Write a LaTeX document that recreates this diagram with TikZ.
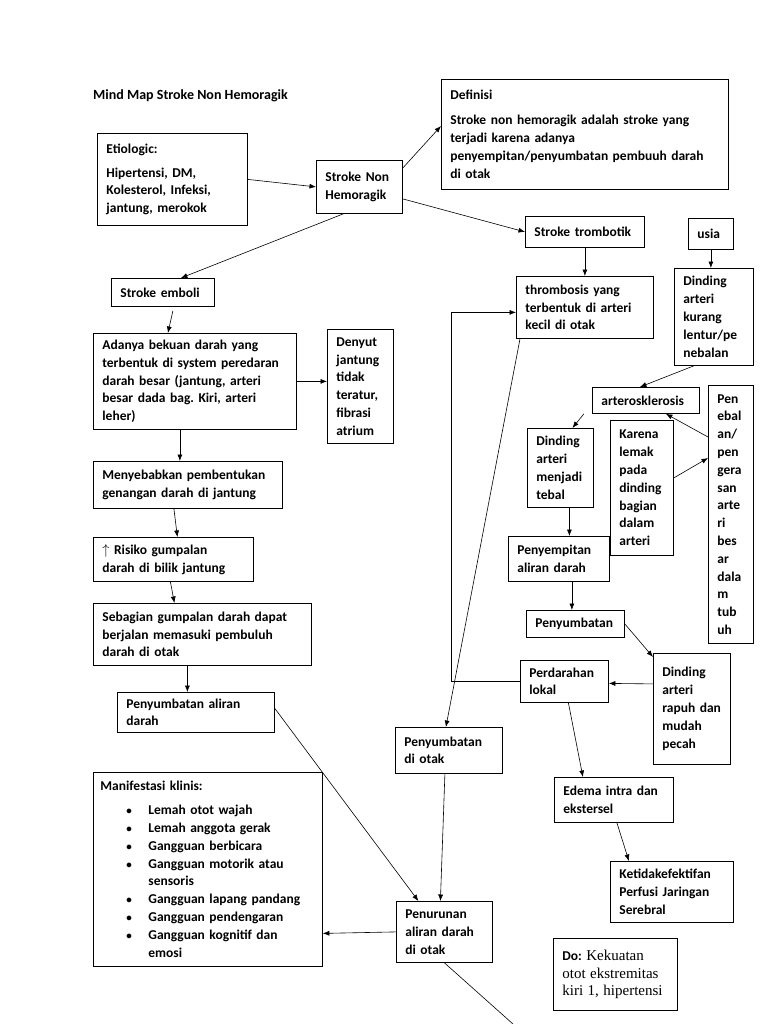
\documentclass[tikz,border=0pt]{standalone}
\usepackage{fontspec}
\setmainfont{Carlito}
\newfontfamily\dofont{Liberation Serif}
\usetikzlibrary{arrows.meta}
\tikzset{>={Latex[length=6.5pt,width=5pt]}}
\tikzset{bx/.style={draw, line width=0.8pt, anchor=north west, align=left, inner xsep=9pt, inner ysep=2pt, font=\bfseries\fontsize{13.5}{17.8}\selectfont}}
\tikzset{ln/.style={line width=0.6pt}}
\newcommand{\blt}{\hspace*{26pt}\makebox[22pt][l]{\fontsize{11}{11}\selectfont\textbullet}}
\frenchspacing

\begin{document}
\begin{tikzpicture}[x=1pt,y=-1pt]
\useasboundingbox (0,0) rectangle (768,1024);

\node[anchor=west, inner sep=0pt, font=\bfseries\fontsize{14}{17.8}\selectfont] (title) at (93,96) {Mind Map Stroke Non Hemoragik};

% top row
\node[bx, minimum width=150pt, minimum height=92pt, text width=132pt] (etio) at (97,133) {Etiologic:\\[6pt]Hipertensi, DM,\\Kolesterol, Infeksi,\\jantung, merokok};
\node[bx, minimum width=86pt, minimum height=53pt, text width=68pt] (snh) at (316,160) {Stroke Non\\Hemoragik};
\node[bx, minimum width=287pt, minimum height=110pt, text width=269pt] (defn) at (441,79) {Definisi\\[7pt]Stroke non hemoragik adalah stroke yang\\terjadi karena adanya\\penyempitan/penyumbatan pembuuh darah\\di otak};

% right side
\node[bx, minimum width=119pt, minimum height=31pt, text width=101pt] (trombotik) at (525,216) {Stroke trombotik};
\node[bx, minimum width=45pt, minimum height=31pt, text width=27pt] (usia) at (688,218) {usia};
\node[bx, minimum width=79pt, minimum height=97pt, text width=61pt] (kurang) at (674,268) {Dinding\\arteri\\kurang\\lentur/pe\\nebalan};
\node[bx, minimum width=137pt, minimum height=62pt, text width=119pt] (thromb) at (516,276) {thrombosis yang\\terbentuk di arteri\\kecil di otak};
\node[bx, minimum width=107pt, minimum height=26pt, text width=89pt] (artero) at (592,387) {arterosklerosis};
\node[bx, minimum width=45pt, minimum height=258pt, text width=27pt] (penebalan) at (708,385) {Pen\\ebal\\an/\\pen\\gera\\san\\arte\\ri\\bes\\ar\\dala\\m\\tub\\uh};
\node[bx, minimum width=66pt, minimum height=79pt, text width=48pt] (tebal) at (527,428) {Dinding\\arteri\\menjadi\\tebal};
\node[bx, minimum width=63pt, minimum height=135pt, text width=45pt] (lemak) at (610,420) {Karena\\lemak\\pada\\dinding\\bagian\\dalam\\arteri};
\node[bx, minimum width=101pt, minimum height=45pt, text width=83pt] (sempit) at (508,536) {Penyempitan\\aliran darah};
\node[bx, minimum width=98pt, minimum height=27pt, text width=80pt] (sumbat) at (526,610) {Penyumbatan};
\node[bx, minimum width=88pt, minimum height=42pt, text width=70pt] (perdarahan) at (520,660) {Perdarahan\\lokal};
\node[bx, minimum width=77pt, minimum height=111pt, text width=59pt] (rapuh) at (653,653) {Dinding\\arteri\\rapuh dan\\mudah\\pecah};
\node[bx, minimum width=119pt, minimum height=45pt, text width=101pt] (edema) at (554,777) {Edema intra dan\\ekstersel};
\node[bx, minimum width=123pt, minimum height=61pt, text width=105pt] (perfusi) at (610,861) {Ketidakefektifan\\Perfusi Jaringan\\Serebral};
\node[bx, minimum width=124pt, minimum height=72pt, text width=106pt] (dobox) at (553,938) {\mbox{Do: {\dofont\mdseries\fontsize{15}{18.5}\selectfont Kekuatan}}\\\mbox{\dofont\mdseries\fontsize{15}{18.5}\selectfont otot ekstremitas}\\\mbox{\dofont\mdseries\fontsize{15}{18.5}\selectfont kiri 1, hipertensi}};

% left column
\node[bx, minimum width=103pt, minimum height=28pt, text width=85pt] (emboli) at (111,278) {Stroke emboli};
\node[bx, minimum width=203pt, minimum height=96pt, text width=185pt] (bekuan) at (93,333) {Adanya bekuan darah yang\\terbentuk di system peredaran\\darah besar (jantung, arteri\\besar dada bag. Kiri, arteri\\leher)};
\node[bx, minimum width=66pt, minimum height=114pt, text width=48pt] (denyut) at (327,329) {Denyut\\jantung\\tidak\\teratur,\\fibrasi\\atrium};
\node[bx, minimum width=189pt, minimum height=47pt, text width=171pt] (genangan) at (93,461) {Menyebabkan pembentukan\\genangan darah di jantung};
\node[bx, minimum width=160pt, minimum height=44pt, text width=142pt] (risiko) at (93,537) {$\uparrow$ Risiko gumpalan\\darah di bilik jantung};
\node[bx, minimum width=218pt, minimum height=62pt, text width=200pt] (sebagian) at (93,603) {Sebagian gumpalan darah dapat\\berjalan memasuki pembuluh\\darah di otak};
\node[bx, minimum width=157pt, minimum height=40pt, text width=139pt] (alirandarah) at (117,692) {Penyumbatan aliran\\darah};
\node[bx, inner xsep=7pt, minimum width=229pt, minimum height=194pt, text width=215pt] (manifest) at (93,772) {Manifestasi klinis:\\[6pt]
\blt Lemah otot wajah\\
\blt Lemah anggota gerak\\
\blt Gangguan berbicara\\
\blt Gangguan motorik atau\\
\hspace*{48pt}sensoris\\
\blt Gangguan lapang pandang\\
\blt Gangguan pendengaran\\
\blt Gangguan kognitif dan\\
\hspace*{48pt}emosi};

% centre
\node[bx, minimum width=107pt, minimum height=46pt, text width=89pt] (sumbatotak) at (395,727) {Penyumbatan\\di otak};
\node[bx, minimum width=96pt, minimum height=61pt, text width=78pt] (penurunan) at (396,901) {Penurunan\\aliran darah\\di otak};
\coordinate (offpage) at (513,1024);

% arrows top
\draw[ln,->] (etio.east) -- (snh.west);
\draw[ln,->] ([yshift=-8pt]snh.north east) -- ([yshift=-47pt]defn.north west);
\draw[ln,->] ([yshift=-12pt]snh.east) -- (trombotik.west);
\draw[ln,->] ([xshift=-16pt]snh.south) -- ([xshift=18pt]emboli.north);

% arrows right
\draw[ln,->] (trombotik.south) -- (trombotik.south |- thromb.north);
\draw[ln,->] (usia.south) -- (usia.south |- kurang.north);
\draw[ln,->] ([xshift=-20pt]kurang.south) -- ([xshift=-6pt]artero.north);
\draw[ln,->] ([xshift=-62pt]artero.south) -- ([xshift=12pt]tebal.north);
\draw[ln,->] ([yshift=-52pt]penebalan.north west) -- ([xshift=20pt]artero.south);
\draw[ln,->] ([yshift=10pt]lemak.east) -- ([yshift=-73pt]penebalan.north west);
\draw[ln,->] ([xshift=9pt]tebal.south) -- ([xshift=9pt]tebal.south |- sempit.north);
\draw[ln,->] ([xshift=13pt]sempit.south) -- ([xshift=13pt]sempit.south |- sumbat.north);
\draw[ln,->] (sumbat.east) -- ([yshift=-4pt]rapuh.north west);
\draw[ln,->] ([yshift=25pt]rapuh.west) -- ([yshift=-2pt]perdarahan.east);
\draw[ln,->] ([xshift=4pt]perdarahan.south) -- ([xshift=-31pt]edema.north);
\draw[ln,->] ([xshift=3pt]edema.south) -- ([xshift=-43pt]perfusi.north);
\draw[ln,->] (perdarahan.west) -- ++(-69,0) |- ([yshift=-5pt]thromb.west);

% arrows centre
\draw[ln,->] ([xshift=4pt]thromb.south west) -- ([xshift=-3pt]sumbatotak.north);
\draw[ln,->] ([xshift=-4pt]sumbatotak.south) -- ([xshift=-4pt]penurunan.north);
\draw[ln,->] ([yshift=4pt]alirandarah.east) -- ([xshift=-26pt]penurunan.north);
\draw[ln,->] (penurunan.west) -- ([yshift=-64pt]manifest.east);
\draw[ln] (penurunan.south) -- (offpage);

% arrows left
\draw[ln,->] ([xshift=10pt,yshift=-4pt]emboli.south) -- ([xshift=-27pt]bekuan.north);
\draw[ln,->] (bekuan.east) -- (bekuan.east -| denyut.west);
\draw[ln,->] ([xshift=-15pt]bekuan.south) -- ([xshift=-15pt]bekuan.south |- genangan.north);
\draw[ln,->] ([xshift=-14pt]genangan.south) -- ([xshift=4pt]risiko.north);
\draw[ln,->] ([xshift=-3pt]risiko.south) -- ([xshift=-28pt]sebagian.north);
\draw[ln,->] ([xshift=-15pt]sebagian.south) -- ([xshift=-15pt]sebagian.south |- alirandarah.north);

\end{tikzpicture}
\end{document}
